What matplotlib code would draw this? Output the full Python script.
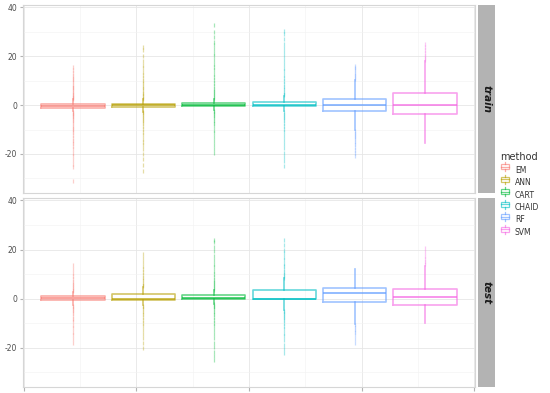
import matplotlib
matplotlib.use("Agg")
import matplotlib.pyplot as plt
from matplotlib.legend_handler import HandlerBase
from matplotlib.patches import Rectangle, Patch
from matplotlib.lines import Line2D

# methods and ggplot hue colours
methods = ["EM", "ANN", "CART", "CHAID", "RF", "SVM"]
colors = ["#F8766D", "#B79F00", "#00BA38", "#00BFC4", "#619CFF", "#F564E3"]

# train panel box statistics
train_q1 = [-1.3, -0.8, -0.4, -0.3, -2.4, -3.6]
train_med = [-0.4, 0.0, 0.2, 0.1, -0.1, 0.0]
train_q3 = [0.3, 0.5, 0.7, 1.3, 2.7, 5.1]
train_lo = [-2.6, -2.7, -2.1, -2.6, -10.0, -15.5]
train_hi = [2.5, 2.4, 2.4, 3.7, 10.3, 18.0]
train_fliers = [
    [2.6, 3, 3.5, 4, 4.6, 5.2, 6, 6.8, 7.5, 8.4, 9.3, 10.2, 11, 12, 13, 14.2,
     15.5, -2.8, -3.2, -3.7, -4.3, -5, -5.8, -6.6, -7.5, -8.4, -9.3, -10.3,
     -11.2, -12.2, -13.3, -14.5, -15.6, -16.8, -18, -19.5, -21, -22.5, -24,
     -25.5, -31],
    [2.6, 3.1, 3.7, 4.4, 5.1, 6, 7, 8, 9, 10, 11.2, 12.4, 13.7, 15, 16.5, 18,
     20, 22.5, 24, -2.9, -3.4, -4, -4.8, -5.6, -6.5, -7.5, -8.6, -9.8, -11,
     -12.3, -13.7, -15, -16.5, -18, -20, -22, -24.5, -27],
    [2.7, 3.3, 4, 4.8, 5.7, 6.7, 7.8, 9, 10.2, 11.5, 12.8, 14.2, 15.6, 17,
     18.5, 20, 21.5, 23, 24.5, 26, 28, 30, 33, -2.4, -3, -3.7, -4.5, -5.4,
     -6.4, -7.5, -8.7, -10, -11.5, -13, -14.6, -16.3, -18, -19.5],
    [4, 4.7, 5.5, 6.4, 7.4, 8.5, 9.7, 11, 12.4, 13.8, 15.3, 16.8, 18.4, 20,
     21.6, 23.3, 25, 27, 29, 30.5, -2.9, -3.5, -4.3, -5.2, -6.2, -7.3, -8.5,
     -9.8, -11.2, -12.7, -14.3, -16, -17.7, -19.5, -21.3, -23, -25],
    [10.8, 11.5, 12.3, 13.2, 14.2, 15.3, 16.2, -10.6, -11.3, -12.1, -13, -14,
     -15, -16.1, -17.2, -18.4, -19.6, -20.8],
    [18.6, 19.4, 20.3, 21.3, 22.4, 23.6, 25],
]

# test panel box statistics
test_q1 = [-0.4, -0.4, -0.3, -0.3, -1.5, -2.7]
test_med = [0.3, 0.0, 0.2, 0.0, 2.4, 0.7]
test_q3 = [0.9, 1.8, 1.6, 3.4, 4.5, 3.8]
test_lo = [-2.7, -2.7, -2.0, -4.5, -10.2, -10.0]
test_hi = [2.7, 4.7, 3.4, 8.2, 12.2, 13.2]
test_fliers = [
    [3, 3.5, 4.2, 5, 5.9, 6.9, 8, 9.2, 10.5, 12, 13.6, -3, -3.6, -4.3, -5.1,
     -6, -7, -8.1, -9.3, -10.6, -12, -13.5, -15, -16.5, -18],
    [5, 5.7, 6.5, 7.4, 8.4, 9.5, 10.7, 12, 13.4, 14.9, 16.4, 18, -3, -3.6,
     -4.4, -5.3, -6.3, -7.4, -8.6, -9.9, -11.3, -12.8, -14.4, -16.1, -18, -20],
    [3.7, 4.3, 5, 5.8, 6.7, 7.7, 8.8, 10, 11.3, 12.7, 14.2, 15.8, 17.5, 19.3,
     21.2, 23, 24, -2.3, -2.9, -3.6, -4.4, -5.3, -6.3, -7.4, -8.6, -9.9,
     -11.3, -12.8, -14.4, -16.1, -17.9, -19.8, -21.8, -23.5, -25],
    [8.6, 9.3, 10.1, 11, 12, 13.1, 14.3, 15.6, 17, 18.5, 20, 22, 24, -4.9,
     -5.5, -6.2, -7, -7.9, -8.9, -10, -11.2, -12.5, -13.9, -15.4, -17, -18.7,
     -20.5, -22],
    [-10.8, -11.6, -12.6, -13.7, -15, -16.4, -18],
    [14, 15, 16.2, 17.5, 19, 20.5],
]


class BoxKey(HandlerBase):
    """Small boxplot glyph for the legend."""

    def create_artists(self, legend, orig, xd, yd, w, h, fontsize, trans):
        c = orig.get_edgecolor()
        kw = dict(color=c, lw=0.9, alpha=0.6, transform=trans)
        x0, x1 = xd + 0.1 * w, xd + 0.9 * w
        y0, y1 = yd + 0.2 * h, yd + 0.8 * h
        box = Rectangle((x0, y0), x1 - x0, y1 - y0, fc="none", ec=c,
                        lw=0.9, alpha=0.6, transform=trans)
        med = Line2D([x0, x1], [yd + h / 2] * 2, **kw)
        w1 = Line2D([xd + w / 2] * 2, [yd - 0.05 * h, y0], **kw)
        w2 = Line2D([xd + w / 2] * 2, [y1, yd + 1.05 * h], **kw)
        return [box, med, w1, w2]


def draw_panel(ax, q1, med, q3, lo, hi, fliers, bottom):
    for i in range(len(methods)):
        c = colors[i]
        st = dict(q1=q1[i], med=med[i], q3=q3[i], whislo=lo[i],
                  whishi=hi[i], fliers=fliers[i])
        ax.bxp([st], positions=[i + 1], widths=0.9, showcaps=False,
               boxprops=dict(color=c, lw=1.2, alpha=0.6),
               whiskerprops=dict(color=c, lw=1.2, alpha=0.6),
               medianprops=dict(color=c, lw=1.2, alpha=0.8),
               flierprops=dict(marker="|", mec=c, ms=3.2, mew=0.9,
                               alpha=0.35))
    ax.set_xlim(0.29, 6.71)
    ax.set_ylim(-36, 41)
    ax.set_xticks([0.3, 1.9, 3.5, 5.1, 6.7])
    ax.set_xticks([1.1, 2.7, 4.3, 5.9], minor=True)
    ax.set_xticklabels([])
    ax.set_yticks([-20, 0, 20, 40])
    ax.set_yticks([-30, -10, 10, 30], minor=True)
    ax.set_yticklabels(["-20", "0", "20", "40"])
    ax.grid(which="major", color="#E6E6E6", lw=0.6)
    ax.grid(which="minor", color="#F2F2F2", lw=0.4)
    ax.set_axisbelow(True)
    for s in ax.spines.values():
        s.set_color("#D6D6D6")
        s.set_linewidth(0.8)
    ax.tick_params(axis="y", which="major", length=2.5, color="#B3B3B3",
                   labelsize=5.5, labelcolor="#4D4D4D", pad=1.5)
    ax.tick_params(which="minor", length=0)
    if bottom:
        ax.tick_params(axis="x", which="major", length=2.7, color="#B3B3B3")
    else:
        ax.tick_params(axis="x", which="major", length=0)


fig = plt.figure(figsize=(5.5, 3.93), dpi=100)

ax_train = fig.add_axes([0.0418, 0.5089, 0.8218, 0.4784])
ax_test = fig.add_axes([0.0418, 0.0153, 0.8218, 0.4809])

draw_panel(ax_train, train_q1, train_med, train_q3, train_lo, train_hi,
           train_fliers, False)
draw_panel(ax_test, test_q1, test_med, test_q3, test_lo, test_hi,
           test_fliers, True)

# facet strips
for ax, name in [(ax_train, "train"), (ax_test, "test")]:
    pos = ax.get_position()
    strip = fig.add_axes([0.869, pos.y0, 0.031, pos.height])
    strip.set_facecolor("#B3B3B3")
    strip.set_xticks([])
    strip.set_yticks([])
    for s in strip.spines.values():
        s.set_visible(False)
    strip.text(0.5, 0.5, name, rotation=-90, ha="center", va="center",
               fontsize=7.5, fontweight="bold", fontstyle="italic",
               color="#1A1A1A", transform=strip.transAxes)

# legend
handles = [Patch(facecolor="none", edgecolor=c) for c in colors]
leg = fig.legend(handles, methods, loc="center left",
                 bbox_to_anchor=(0.9, 0.505), frameon=False, title="method",
                 fontsize=5.5, title_fontsize=7, handlelength=1.3,
                 handleheight=1.3, labelspacing=0.45, handletextpad=0.6,
                 borderaxespad=0.3, handler_map={Patch: BoxKey()})
leg._legend_box.align = "left"
leg.get_title().set_color("#333333")
for t in leg.get_texts():
    t.set_color("#333333")

plt.savefig("out.png", dpi=100)
